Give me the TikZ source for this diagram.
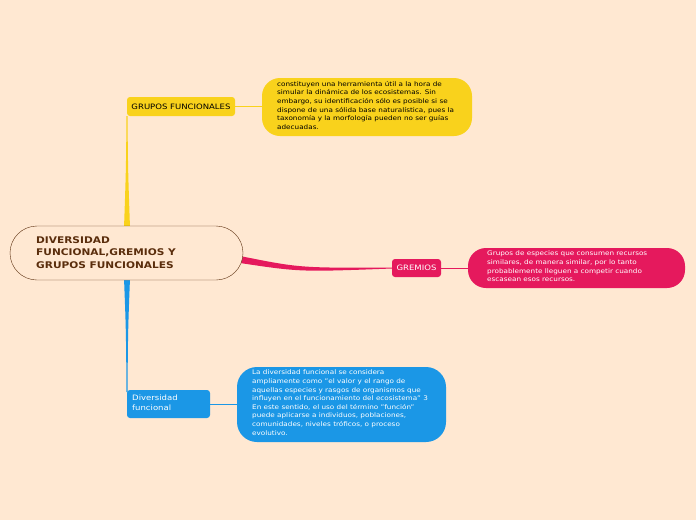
\documentclass[tikz,border=0pt]{standalone}
\usepackage{fontspec}
\setmainfont[FakeStretch=1.15]{DejaVu Sans}
\definecolor{bg}{HTML}{FFE8D2}
\definecolor{yel}{HTML}{F9D21C}
\definecolor{pnk}{HTML}{E5195D}
\definecolor{blu}{HTML}{1B97E6}
\definecolor{brn}{HTML}{5A2D0C}
\begin{document}
\begin{tikzpicture}[x=1pt,y=-1pt,
  box/.style={rounded corners=#1, inner sep=0pt},
  detail/.style={font=\fontsize{6.3}{8.6}\selectfont, align=left, anchor=north west, inner sep=0pt}]
\fill[bg] (0,0) rectangle (696,520);
\useasboundingbox (0,0) rectangle (696,520);
% connectors
\fill[yel] (124,228) .. controls (126,170) .. (126.5,116) -- (127.5,116) .. controls (128,170) .. (130,228) -- cycle;
\fill[blu] (124,278) .. controls (126,330) .. (126.5,392) -- (127.5,392) .. controls (128,330) .. (130,278) -- cycle;
\fill[pnk] (240,256) .. controls (300,268) .. (392,267.5) -- (392,268.5) .. controls (300,272) .. (240,263) -- cycle;
% central
\draw[brn, fill=bg, rounded corners=27] (10,226) rectangle (243,280);
\node[anchor=north west, align=left, text=brn, inner sep=0pt, font=\fontsize{9.2}{12.5}\selectfont\bfseries] (c) at (36,236) {DIVERSIDAD\\FUNCIONAL,GREMIOS Y\\GRUPOS FUNCIONALES};
% level 1
\fill[yel, rounded corners=3] (127,97) rectangle (235,116);
\node[font=\fontsize{7.4}{8}\selectfont] (g) at (181,106.5) {GRUPOS FUNCIONALES};
\fill[pnk, rounded corners=3] (392,259) rectangle (441,277);
\node[font=\fontsize{7.4}{8}\selectfont, text=white] (gr) at (416.5,268) {GREMIOS};
\fill[blu, rounded corners=3] (127,390) rectangle (210,418);
\node[font=\fontsize{7.4}{9.5}\selectfont, text=white, align=left, anchor=north west, inner sep=0pt] (d) at (132,395) {Diversidad\\funcional};
% thin lines
\draw[yel, line width=0.6] (235,106.5) -- (262,106.5);
\draw[pnk, line width=0.6] (441,268) -- (468,268);
\draw[blu, line width=0.6] (210,404) -- (237,404);
% details
\fill[yel, rounded corners=18] (262,78) rectangle (472,136);
\node[detail] (t1) at (277,81) {constituyen una herramienta útil a la hora de\\simular la dinámica de los ecosistemas. Sin\\embargo, su identificación sólo es posible si se\\dispone de una sólida base naturalística, pues la\\taxonomía y la morfología pueden no ser guías\\adecuadas.};
\fill[pnk, rounded corners=18] (468,248) rectangle (685,288);
\node[detail, text=white] (t2) at (487,251) {Grupos de especies que consumen recursos\\similares, de manera similar, por lo tanto\\probablemente lleguen a competir cuando\\escasean esos recursos.};
\fill[blu, rounded corners=20] (237,367) rectangle (446,442);
\node[detail, text=white] (t3) at (252,370) {La diversidad funcional se considera\\ampliamente como "el valor y el rango de\\aquellas especies y rasgos de organismos que\\influyen en el funcionamiento del ecosistema" 3\\En este sentido, el uso del término "función"\\puede aplicarse a individuos, poblaciones,\\comunidades, niveles tróficos, o proceso\\evolutivo.};
\end{tikzpicture}
\end{document}
